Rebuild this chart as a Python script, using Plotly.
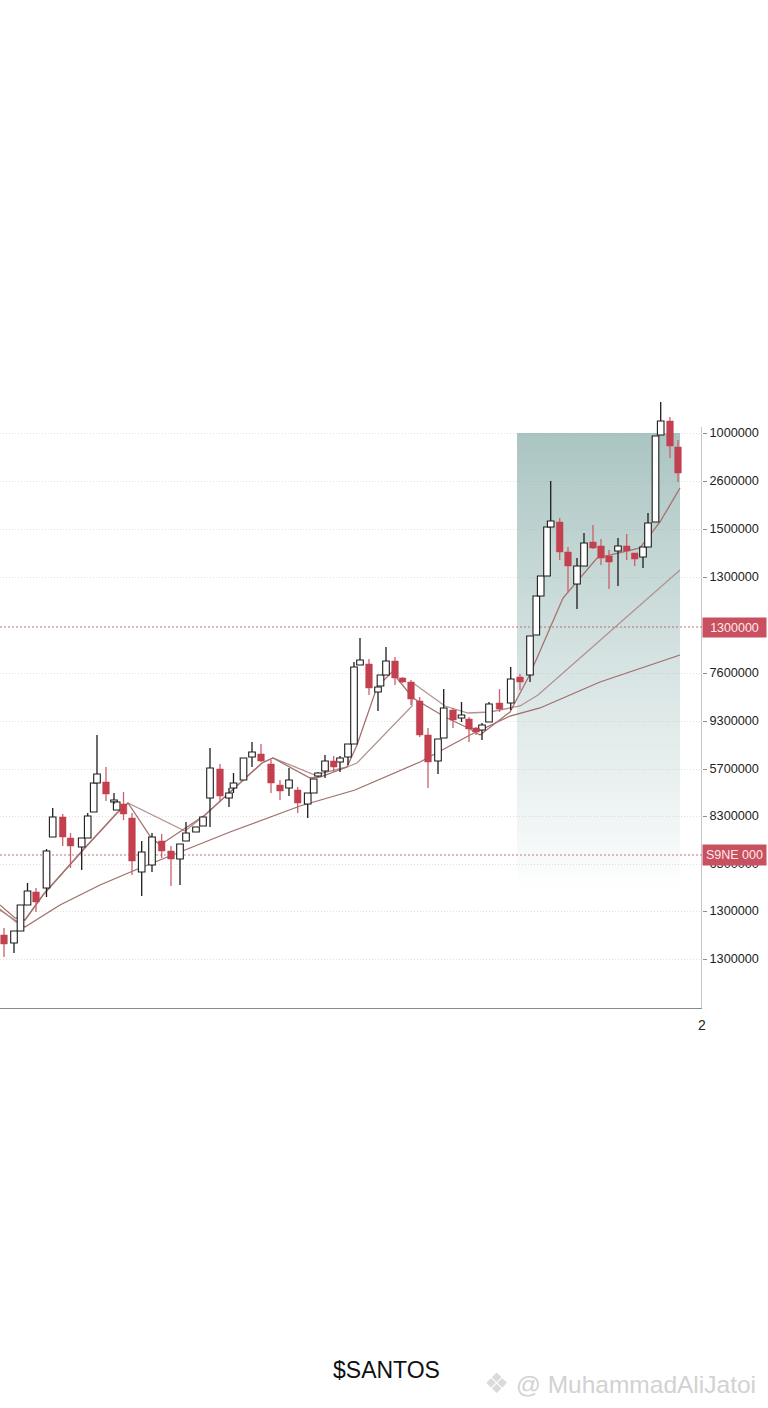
import plotly.graph_objects as go

# candles, price scale is only an index (the labels are unreadable anyway)
candle_x = [4, 14, 20.5, 27.5, 36, 46.5, 52.7, 62.7, 70.5, 81.7, 87.7, 93.7, 97, 106, 114, 116.7, 123.5, 132, 141.7, 152,
            161.7, 171, 180, 186, 196, 203, 210, 220, 229, 233.5, 243.5, 252, 261, 271, 280, 289, 297.7, 307.7, 313.7, 318,
            325, 333.7, 340, 348, 354, 360, 369, 378, 380.5, 386, 395, 402.5, 411, 419.7, 428, 438, 443.7, 453, 461.5, 469,
            476, 482, 489, 499.5, 510.7, 520, 530, 536.3, 540.7, 547, 550.7, 559.7, 568, 577, 584, 593, 601, 609, 618, 626.7,
            634.7, 643, 648, 655.5, 660.7, 670, 678]
open_ = [73, 65, 77, 103, 116, 120, 171, 191, 170, 161, 170, 196, 225, 226, 206, 198, 204, 190, 136, 143,
         167, 157, 149, 167, 176, 182, 210, 239, 210, 220, 228, 251, 254, 244, 223, 220, 218, 204, 215, 232,
         237, 247, 246, 251, 264, 343, 344, 316, 322, 333, 347, 330, 326, 307, 273, 247, 270, 298, 290, 289,
         280, 278, 286, 305, 305, 331, 333, 373, 412, 432, 481, 486, 456, 424, 442, 466, 462, 452, 457, 462,
         455, 451, 461, 486, 573, 587, 561]
close = [64, 77, 103, 117, 106, 157, 191, 171, 162, 170, 192, 225, 234, 214, 208, 206, 194, 147, 156, 171,
         157, 149, 164, 175, 181, 191, 240, 212, 215, 225, 250, 256, 247, 225, 217, 228, 205, 215, 229, 235,
         247, 241, 250, 264, 341, 348, 320, 321, 333, 347, 330, 326, 309, 273, 246, 269, 300, 288, 293, 279,
         276, 283, 304, 299, 329, 326, 372, 412, 432, 481, 487, 456, 442, 442, 465, 460, 450, 446, 462, 457,
         449, 461, 485, 572, 587, 562, 535]
high = [80, 77, 103, 125, 120, 159, 200, 194, 175, 170, 195, 225, 273, 241, 215, 206, 216, 195, 167, 175,
        174, 162, 164, 186, 181, 191, 260, 244, 220, 235, 250, 266, 264, 248, 228, 240, 221, 215, 229, 236,
        253, 252, 252, 264, 346, 370, 349, 321, 333, 361, 351, 331, 328, 311, 280, 269, 319, 300, 306, 291,
        281, 285, 306, 319, 341, 334, 372, 412, 432, 481, 527, 490, 461, 450, 475, 483, 469, 458, 470, 474,
        455, 461, 495, 572, 606, 591, 568]
low = [51, 55, 77, 103, 96, 111, 171, 162, 140, 138, 170, 196, 225, 207, 204, 198, 188, 133, 112, 136,
       150, 122, 123, 167, 176, 182, 181, 207, 201, 215, 228, 241, 246, 215, 208, 212, 195, 190, 215, 231,
       230, 236, 236, 243, 264, 343, 313, 297, 322, 333, 323, 325, 303, 271, 220, 234, 270, 280, 286, 266,
       273, 268, 286, 296, 298, 318, 326, 373, 412, 432, 481, 448, 416, 399, 442, 459, 443, 419, 422, 448,
       442, 440, 461, 486, 573, 550, 526]

fast_x = [0, 15, 25, 43, 83, 117, 128, 150, 160, 183, 205, 262, 273, 310, 320, 347, 357, 377, 392, 413, 445, 468, 480,
          510, 528, 537, 550, 563, 597, 640, 660, 680]
fast_y = [103, 90, 88, 113, 158, 195, 205, 172, 163, 178, 193, 245, 250, 230, 231, 241, 263, 321, 336, 310, 291, 280, 273,
          296, 330, 350, 380, 410, 450, 460, 486, 520]
mid_x = [0, 16, 25, 43, 83, 117, 128, 185, 205, 262, 273, 315, 347, 357, 412, 413, 445, 468, 490, 520, 538, 680]
mid_y = [99, 86, 88, 113, 158, 195, 205, 177, 193, 245, 250, 233, 241, 245, 302, 325, 302, 295, 296, 302, 313, 438]
slow_x = [0, 15, 25, 60, 100, 140, 180, 230, 300, 355, 420, 470, 510, 540, 600, 680]
slow_y = [98, 88, 81, 103, 123, 140, 156, 176, 202, 218, 246, 273, 292, 300, 326, 353]

tick_vals = [575, 527, 479, 431, 335, 287, 239, 192, 144, 97, 49]
tick_text = ['1000000', '2600000', '1500000', '1300000', '7600000', '9300000', '5700000', '8300000', '6300000',
             '1300000', '1300000']
levels = [381, 153]
level_text = ['1300000', 'S9NE 000']
zone_x = [517, 680, 680, 517, 517]
zone_y = [575, 575, 118, 118, 575]

WHITE = '#ffffff'
BLACK = '#1c1c1c'
RED = '#c2404f'
BODY = 6.6
AXIS = '#8c8c8c'
X_MAX = 702
Y_MAX = 613
PLOT_H = 613


def wicks(idx):
    xs, ys = [], []
    for i in idx:
        top, bot = max(open_[i], close[i]), min(open_[i], close[i])
        xs += [candle_x[i], candle_x[i], None, candle_x[i], candle_x[i], None]
        ys += [high[i], top, None, bot, low[i], None]
    return xs, ys


up = [i for i in range(len(candle_x)) if close[i] >= open_[i]]
down = [i for i in range(len(candle_x)) if close[i] < open_[i]]

fig = go.Figure()

# teal zone goes on the lower axes so that the candles stay on top of it
fig.add_trace(go.Scatter(x=zone_x, y=zone_y, mode='lines', fill='toself', line=dict(width=0),
                         fillgradient=dict(type='vertical',
                                           colorscale=[[0, 'rgba(150,185,182,0)'], [0.12, 'rgba(150,185,182,0.12)'],
                                                       [0.55, 'rgba(140,178,175,0.40)'],
                                                       [1, 'rgba(125,165,160,0.65)']])))
for lvl in levels:
    fig.add_trace(go.Scatter(x=[0, X_MAX], y=[lvl, lvl], mode='lines',
                             line=dict(color='#b9636c', width=0.9, dash='2px,2px')))
fig.add_trace(go.Scatter(x=slow_x, y=slow_y, mode='lines', line=dict(color='#9d6f6b', width=1.3)))
fig.add_trace(go.Scatter(x=mid_x, y=mid_y, mode='lines', line=dict(color='#b09390', width=1.3)))
fig.add_trace(go.Scatter(x=fast_x, y=fast_y, mode='lines', line=dict(color='#a5716d', width=1.3)))

# candles
fig.add_trace(go.Bar(x=[candle_x[i] for i in up], base=[open_[i] for i in up],
                     y=[close[i] - open_[i] for i in up], width=BODY,
                     marker=dict(color=WHITE, line=dict(color=BLACK, width=1.1)),
                     xaxis='x2', yaxis='y2'))
fig.add_trace(go.Bar(x=[candle_x[i] for i in down], base=[open_[i] for i in down],
                     y=[close[i] - open_[i] for i in down], width=BODY,
                     marker=dict(color=RED, line=dict(color=RED, width=0.5)),
                     xaxis='x2', yaxis='y2'))
wx, wy = wicks(up)
fig.add_trace(go.Scatter(x=wx, y=wy, mode='lines', line=dict(color=BLACK, width=1.3), xaxis='x2', yaxis='y2'))
wx, wy = wicks(down)
fig.add_trace(go.Scatter(x=wx, y=wy, mode='lines', line=dict(color='#c9606b', width=1.3), xaxis='x2', yaxis='y2'))

fig.update_layout(
    width=768, height=1408,
    margin=dict(l=0, r=66, t=395, b=400),
    paper_bgcolor='white', plot_bgcolor='white',
    showlegend=False, barmode='overlay',
    font=dict(family='Liberation Sans', color='#222222', size=12.7),
    xaxis=dict(range=[0, X_MAX], showgrid=False, zeroline=False, showline=True, linecolor=AXIS, linewidth=1,
               tickvals=[X_MAX], ticktext=['2'], ticks='', ticklabelstandoff=4, tickfont=dict(size=14, color='#222222')),
    yaxis=dict(range=[0, Y_MAX], side='right', tickvals=tick_vals, ticktext=tick_text, showgrid=True,
               gridcolor='#e2e2e2', gridwidth=0.8, griddash='1px,2px', zeroline=False, showline=False,
               ticks='outside', ticklen=4, tickcolor=AXIS, ticklabelstandoff=0),
    xaxis2=dict(range=[0, X_MAX], overlaying='x', visible=False),
    yaxis2=dict(range=[0, Y_MAX], overlaying='y', visible=False),
)

# right axis line stops below the last wick
fig.add_shape(type='line', x0=X_MAX, x1=X_MAX, y0=0, y1=581, line=dict(color=AXIS, width=1))

# red price tags on the right
for lvl, txt, h in zip(levels, level_text, [19, 20]):
    fig.add_annotation(x=X_MAX, y=lvl, xref='x', yref='y', xanchor='left', text=txt, showarrow=False,
                       bgcolor='#c9505f', font=dict(color='#fbe9ea', size=12.5), width=63, height=h,
                       borderpad=0, align='center', valign='middle')


def paper_y(py):
    return (1008 - py) / PLOT_H


fig.add_annotation(x=386 / X_MAX, y=paper_y(1370), xref='paper', yref='paper', text='$SANTOS', showarrow=False,
                   font=dict(family='Liberation Sans', size=23, color='#111111'), xanchor='center', yanchor='middle')
fig.add_annotation(x=514 / X_MAX, y=paper_y(1384), xref='paper', yref='paper', text='@ MuhammadAliJatoi',
                   showarrow=False, font=dict(family='Liberation Sans', size=24.5, color='#d2d2d2'),
                   xanchor='left', yanchor='middle')
fig.add_annotation(x=496 / X_MAX, y=paper_y(1383), xref='paper', yref='paper', text='❖', showarrow=False,
                   font=dict(family='DejaVu Sans', size=28, color='#dadada'), xanchor='center', yanchor='middle')

fig.write_html("out.html", config={'displayModeBar': False}, post_script="document.body.style.margin='0';")
